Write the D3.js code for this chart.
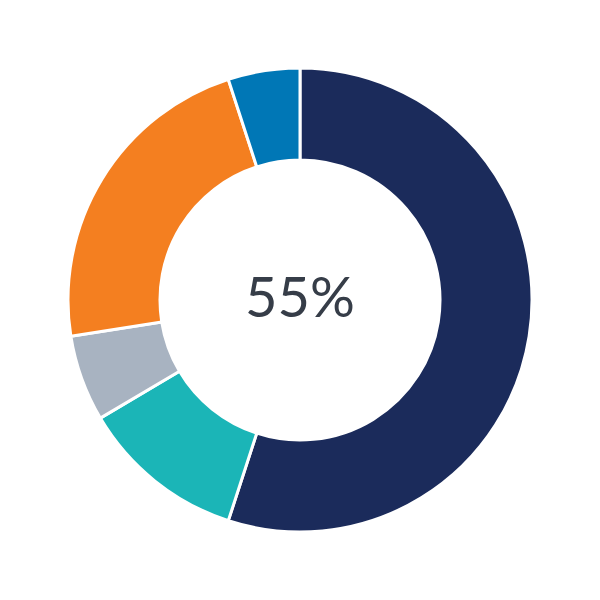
<!DOCTYPE html>
<html>
<head>
<meta charset="utf-8">
<script src="https://cdn.jsdelivr.net/npm/d3@7"></script>
<style>
  body { margin: 0; background: #fff; }
</style>
</head>
<body>
<svg id="chart" width="600" height="600"></svg>
<script>
// slice data, clockwise from 12 o'clock
const labels = ['A', 'B', 'C', 'D', 'E'];
const values = [55, 11.5, 6, 22.5, 5];
const colors = ['#1b2b5b', '#1bb5b7', '#a8b3c1', '#f47f20', '#0077b6'];
const centerLabel = '55%';

const width = 600, height = 600;
const outerR = 232, innerR = 140;

const svg = d3.select('#chart');
const g = svg.append('g')
  .attr('transform', `translate(${width / 2},${height / 2})`);

const pie = d3.pie()
  .sort(null)
  .value(d => d.value);

const arc = d3.arc()
  .innerRadius(innerR)
  .outerRadius(outerR);

const data = labels.map((l, i) => ({label: l, value: values[i], color: colors[i]}));

g.selectAll('path')
  .data(pie(data))
  .join('path')
  .attr('d', arc)
  .attr('fill', d => d.data.color)
  .attr('stroke', '#fff')
  .attr('stroke-width', 3);

// big number in the hole
g.append('text')
  .attr('text-anchor', 'middle')
  .attr('y', 17)
  .attr('font-family', 'Lato, sans-serif')
  .attr('font-size', 56)
  .attr('fill', '#363d48')
  .text(centerLabel);
</script>
</body>
</html>
